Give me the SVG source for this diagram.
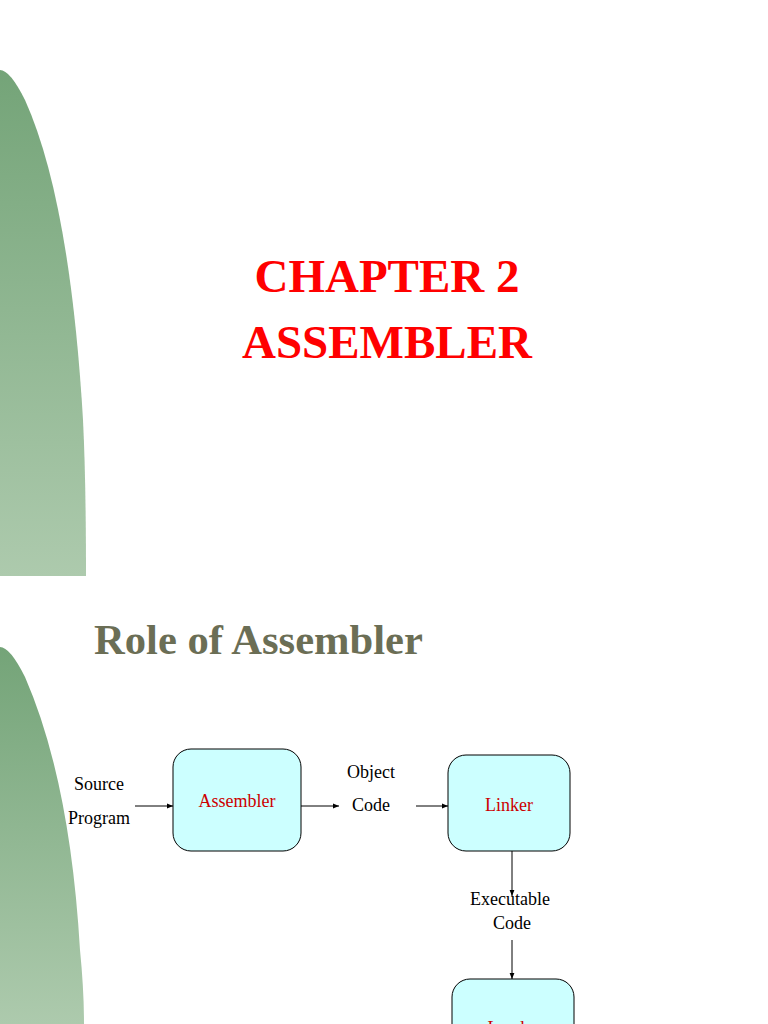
<svg xmlns="http://www.w3.org/2000/svg" width="768" height="1024" viewBox="0 0 768 1024">
<defs>
<linearGradient id="g" x1="0" y1="0" x2="0" y2="1"><stop offset="0" stop-color="#74a478"/><stop offset="1" stop-color="#adcaad"/></linearGradient>
<marker id="a" viewBox="0 0 10 10" refX="10" refY="5" markerWidth="6" markerHeight="6" orient="auto"><path d="M0,1 L10,5 L0,9 z" fill="#000"/></marker>
<style>
.t{font-family:"Liberation Serif",serif;}
.lb{font-size:18px;fill:#000;text-anchor:middle}
.nt{font-size:18px;fill:#cc0000;text-anchor:middle}
.box{fill:#ccffff;stroke:#000;stroke-width:1}
.c{stroke:#000;stroke-width:1;fill:none;marker-end:url(#a)}
</style>
</defs>
<rect width="768" height="1024" fill="#fff"/>
<path d="M0,70 Q10,70 25,100 Q70,200 83,420 Q86,480 86,576 L0,576 z" fill="url(#g)"/>
<path d="M0,647 Q10,647 25,677 Q70,780 80,950 Q84,990 84,1024 L0,1024 z" fill="url(#g)"/>
<text class="t" x="387" y="292" font-size="47" font-weight="bold" fill="#ff0000" text-anchor="middle">CHAPTER 2</text>
<text class="t" x="387" y="358" font-size="47" font-weight="bold" fill="#ff0000" text-anchor="middle">ASSEMBLER</text>
<text class="t" x="94" y="654" font-size="42.6" font-weight="bold" fill="#6b6e55">Role of Assembler</text>
<g id="source"><text class="t lb" x="99" y="790">Source</text><text class="t lb" x="99" y="824">Program</text></g>
<g id="assembler"><rect class="box" x="173" y="749" width="128" height="102" rx="18"/><text class="t nt" x="237" y="807">Assembler</text></g>
<g id="object"><text class="t lb" x="371" y="778">Object</text><text class="t lb" x="371" y="811">Code</text></g>
<g id="linker"><rect class="box" x="448" y="755" width="122" height="96" rx="18"/><text class="t nt" x="509" y="811">Linker</text></g>
<g id="exec"><text class="t lb" x="510" y="905">Executable</text><text class="t lb" x="512" y="929">Code</text></g>
<g id="loader"><rect class="box" x="452" y="979" width="122" height="80" rx="18"/><text class="t nt" x="513" y="1034">Loader</text></g>
<g id="connectors">
<line class="c" x1="135" y1="806" x2="173" y2="806"/>
<line class="c" x1="301" y1="806" x2="339" y2="806"/>
<line class="c" x1="416" y1="806" x2="448" y2="806"/>
<line class="c" x1="512" y1="851" x2="512" y2="896"/>
<line class="c" x1="512" y1="940" x2="512" y2="979"/>
</g>
</svg>
